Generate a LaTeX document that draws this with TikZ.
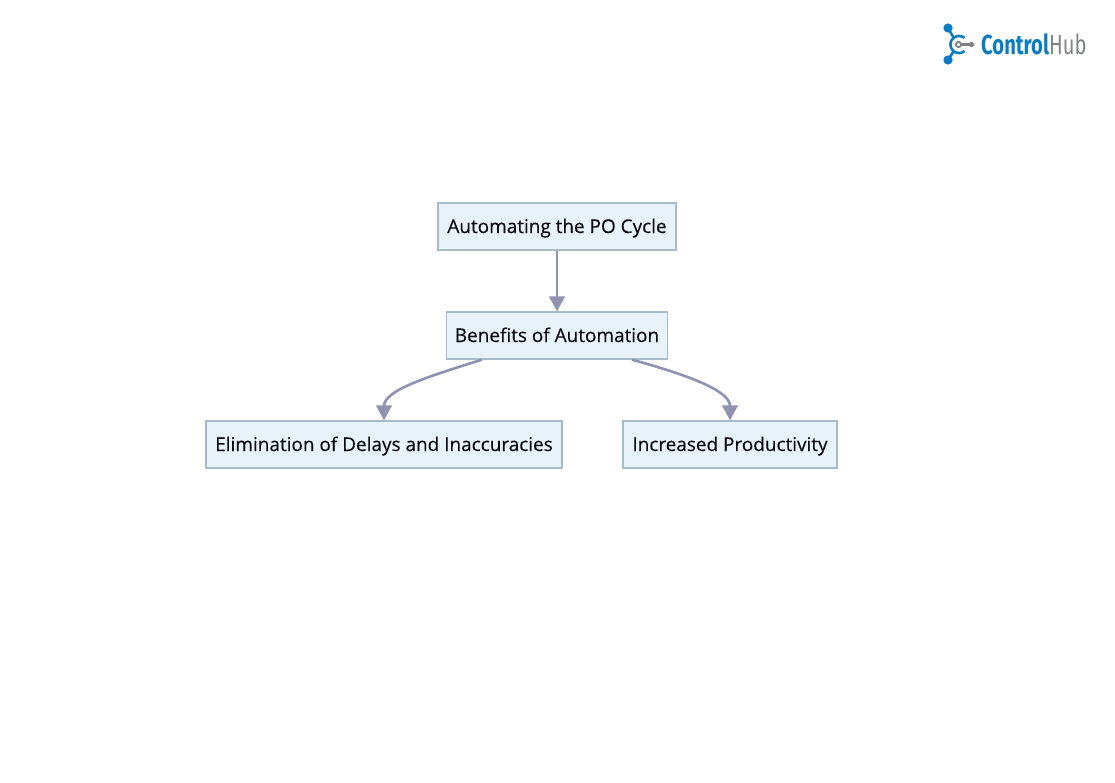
\documentclass[tikz,border=0pt]{standalone}
\usepackage{fontspec}
\setmainfont{Open Sans}[FakeBold=0.25]
\newfontfamily\logofont{Fira Sans}
\usetikzlibrary{arrows.meta}
\definecolor{boxfill}{HTML}{E8F3F9}
\definecolor{boxline}{HTML}{A8BBC8}
\definecolor{edgecol}{HTML}{9092B0}
\definecolor{logoblue}{HTML}{0A7CC1}
\definecolor{logogray}{HTML}{808285}
\definecolor{inktext}{HTML}{0B0B14}
\tikzset{
  box/.style={draw=boxline,fill=boxfill,line width=1.3pt,minimum height=47pt,inner sep=0pt,anchor=center,text=inktext,text height=17pt,text depth=4pt,font=\fontsize{18.95}{22}\selectfont},
  edge/.style={draw=edgecol,line width=2.6pt,-{Triangle[length=15pt,width=15.5pt]}},
}
\begin{document}
\begin{tikzpicture}[x=1pt,y=-1pt]
\useasboundingbox (0,0) rectangle (1115,782);
\fill[white] (0,0) rectangle (1115,782);
\node[box,minimum width=238pt] (a) at (557,226.5) {Automating the PO Cycle};
\node[box,minimum width=221pt] (b) at (557,335.5) {Benefits of Automation};
\node[box,minimum width=356pt] (c) at (384,444.5) {Elimination of Delays and Inaccuracies};
\node[box,minimum width=214pt] (d) at (730,444.5) {Increased Productivity};
\draw[edge] (a) -- (b);
\draw[edge] ([xshift=-75pt]b.south) .. controls (430,376) and (384,390) .. (c.north);
\draw[edge] ([xshift=75pt]b.south) .. controls (684,374) and (730,390) .. (d.north);
% logo
\coordinate (lt) at (948,28);
\coordinate (lb) at (948,60);
\draw[logoblue,line width=2.6pt] (lt) -- (953.5,37.5);
\draw[logoblue,line width=2.6pt] (lb) -- (953.5,51.5);
\draw[logoblue,line width=2.6pt,smooth] plot[domain=50:310,samples=40] ({959+8.5*cos(\x)},{44.5-8.5*sin(\x)});
\fill[logoblue] (lt) circle[radius=4.6pt] (lb) circle[radius=4.6pt];
\draw[logogray,line width=1.8pt] (958.5,44.5) circle[radius=2.6pt];
\draw[logogray,line width=2.2pt] (961,44.5) -- (971,44.5);
\fill[logogray] (971.5,44.5) circle[radius=2.6pt];
\node[anchor=west,inner sep=0pt] (logo) at (981,44.5) {\scalebox{0.735}[1]{\logofont\fontsize{27.5}{30}\selectfont\textcolor{logoblue}{\bfseries Control}\textcolor{logogray}{Hub}}};
\end{tikzpicture}
\end{document}
